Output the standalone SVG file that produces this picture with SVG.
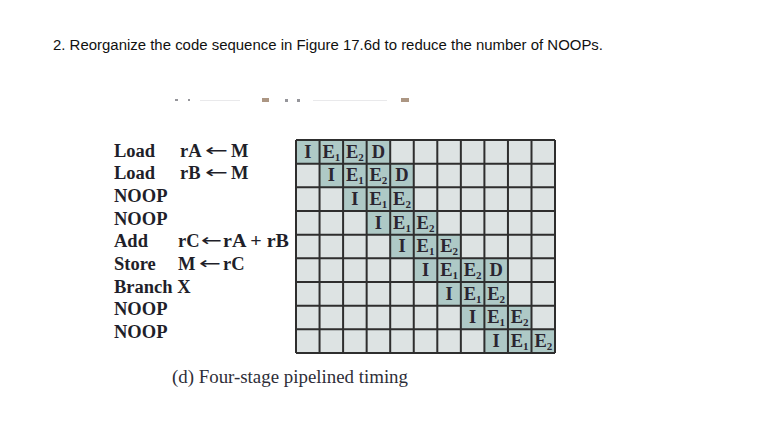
<svg xmlns="http://www.w3.org/2000/svg" width="768" height="448" viewBox="0 0 768 448">
<style>
.title{font-family:"Liberation Sans",Arial,sans-serif;font-size:15.5px;fill:#111}
.lbl{font-family:"Liberation Serif","Times New Roman",serif;font-weight:bold;font-size:18.5px;fill:#1f1f2a}
.arr{font-family:"DejaVu Sans",sans-serif;font-size:17px;fill:#1f1f2a}
.cell{font-family:"Liberation Serif","Times New Roman",serif;font-weight:bold;font-size:18.5px;fill:#2a2530;text-anchor:middle}
.sub{font-size:11px}
.cap{font-family:"Liberation Serif","Times New Roman",serif;font-size:18.5px;fill:#2e2e38}
.hl{fill:#aec9c6}
.grid{fill:none;stroke:#2e2e2e;stroke-width:2}
</style>
<rect width="768" height="448" fill="#ffffff"/>
<g id="title">
<text class="title" x="53" y="50" textLength="550" lengthAdjust="spacingAndGlyphs">2. Reorganize the code sequence in Figure 17.6d to reduce the number of NOOPs.</text>
</g>
<g id="residue" fill="#6a6a72" opacity="0.7">
<rect x="175" y="99" width="3" height="2"/>
<rect x="188" y="99" width="2" height="2"/>
<rect x="200" y="100" width="40" height="1" opacity="0.2"/>
<rect x="262" y="98" width="7" height="4" fill="#8a6a50"/>
<rect x="285" y="99" width="3" height="3"/>
<rect x="297" y="99" width="3" height="3"/>
<rect x="313" y="100" width="74" height="1" opacity="0.2"/>
<rect x="401" y="98" width="8" height="4" fill="#8a6a50"/>
</g>
<g id="labels">
<text class="lbl" x="114" y="156.5">Load</text>
<text class="lbl" x="180" y="156.5">rA</text>
<text class="arr" x="205" y="155.5" textLength="23" lengthAdjust="spacingAndGlyphs">←</text>
<text class="lbl" x="231" y="156.5">M</text>
<text class="lbl" x="114" y="179.2">Load</text>
<text class="lbl" x="180" y="179.2">rB</text>
<text class="arr" x="205" y="178.2" textLength="23" lengthAdjust="spacingAndGlyphs">←</text>
<text class="lbl" x="231" y="179.2">M</text>
<text class="lbl" x="114" y="201.9">NOOP</text>
<text class="lbl" x="114" y="224.6">NOOP</text>
<text class="lbl" x="114" y="247.3">Add</text>
<text class="lbl" x="178" y="247.3">rC</text>
<text class="arr" x="201" y="246.3" textLength="21" lengthAdjust="spacingAndGlyphs">←</text>
<text class="lbl" x="223" y="247.3" textLength="66" lengthAdjust="spacingAndGlyphs">rA + rB</text>
<text class="lbl" x="114" y="270">Store</text>
<text class="lbl" x="178" y="270">M</text>
<text class="arr" x="199" y="269" textLength="22" lengthAdjust="spacingAndGlyphs">←</text>
<text class="lbl" x="223" y="270">rC</text>
<text class="lbl" x="114" y="292.7">Branch X</text>
<text class="lbl" x="114" y="315.4">NOOP</text>
<text class="lbl" x="114" y="338.1">NOOP</text>
</g>
<g id="pipeline-grid">
<rect x="296" y="140" width="259" height="213" fill="#dde3e3"/>
<rect class="hl" x="296" y="140" width="94.2" height="23.67"/>
<rect class="hl" x="319.55" y="163.67" width="94.2" height="23.67"/>
<rect class="hl" x="343.1" y="187.33" width="70.65" height="23.67"/>
<rect class="hl" x="366.65" y="211" width="70.65" height="23.67"/>
<rect class="hl" x="390.2" y="234.67" width="70.65" height="23.67"/>
<rect class="hl" x="413.75" y="258.33" width="94.2" height="23.67"/>
<rect class="hl" x="437.3" y="282" width="70.65" height="23.67"/>
<rect class="hl" x="460.85" y="305.67" width="70.65" height="23.67"/>
<rect class="hl" x="484.4" y="329.33" width="70.65" height="23.67"/>
<path class="grid" d="M296 140V353M319.55 140V353M343.1 140V353M366.65 140V353M390.2 140V353M413.75 140V353M437.3 140V353M460.85 140V353M484.4 140V353M507.95 140V353M531.5 140V353M555 140V353M296 140H555M296 163.67H555M296 187.33H555M296 211H555M296 234.67H555M296 258.33H555M296 282H555M296 305.67H555M296 329.33H555M296 353H555"/>
</g>
<g id="stages">
<text class="cell" x="307.8" y="157.5">I</text>
<text class="cell" x="331.3" y="157.5">E<tspan class="sub" dy="3">1</tspan></text>
<text class="cell" x="354.9" y="157.5">E<tspan class="sub" dy="3">2</tspan></text>
<text class="cell" x="378.4" y="157.5">D</text>

<text class="cell" x="331.3" y="181.2">I</text>
<text class="cell" x="354.9" y="181.2">E<tspan class="sub" dy="3">1</tspan></text>
<text class="cell" x="378.4" y="181.2">E<tspan class="sub" dy="3">2</tspan></text>
<text class="cell" x="402" y="181.2">D</text>

<text class="cell" x="354.9" y="204.8">I</text>
<text class="cell" x="378.4" y="204.8">E<tspan class="sub" dy="3">1</tspan></text>
<text class="cell" x="402" y="204.8">E<tspan class="sub" dy="3">2</tspan></text>

<text class="cell" x="378.4" y="228.5">I</text>
<text class="cell" x="402" y="228.5">E<tspan class="sub" dy="3">1</tspan></text>
<text class="cell" x="425.5" y="228.5">E<tspan class="sub" dy="3">2</tspan></text>

<text class="cell" x="402" y="252.2">I</text>
<text class="cell" x="425.5" y="252.2">E<tspan class="sub" dy="3">1</tspan></text>
<text class="cell" x="449.1" y="252.2">E<tspan class="sub" dy="3">2</tspan></text>

<text class="cell" x="425.5" y="275.8">I</text>
<text class="cell" x="449.1" y="275.8">E<tspan class="sub" dy="3">1</tspan></text>
<text class="cell" x="472.6" y="275.8">E<tspan class="sub" dy="3">2</tspan></text>
<text class="cell" x="496.2" y="275.8">D</text>

<text class="cell" x="449.1" y="299.5">I</text>
<text class="cell" x="472.6" y="299.5">E<tspan class="sub" dy="3">1</tspan></text>
<text class="cell" x="496.2" y="299.5">E<tspan class="sub" dy="3">2</tspan></text>

<text class="cell" x="472.6" y="323.2">I</text>
<text class="cell" x="496.2" y="323.2">E<tspan class="sub" dy="3">1</tspan></text>
<text class="cell" x="519.7" y="323.2">E<tspan class="sub" dy="3">2</tspan></text>

<text class="cell" x="496.2" y="346.8">I</text>
<text class="cell" x="519.7" y="346.8">E<tspan class="sub" dy="3">1</tspan></text>
<text class="cell" x="543.3" y="346.8">E<tspan class="sub" dy="3">2</tspan></text>
</g>
<g id="caption">
<text class="cap" x="172" y="383" textLength="236" lengthAdjust="spacingAndGlyphs">(d) Four-stage pipelined timing</text>
</g>
</svg>
